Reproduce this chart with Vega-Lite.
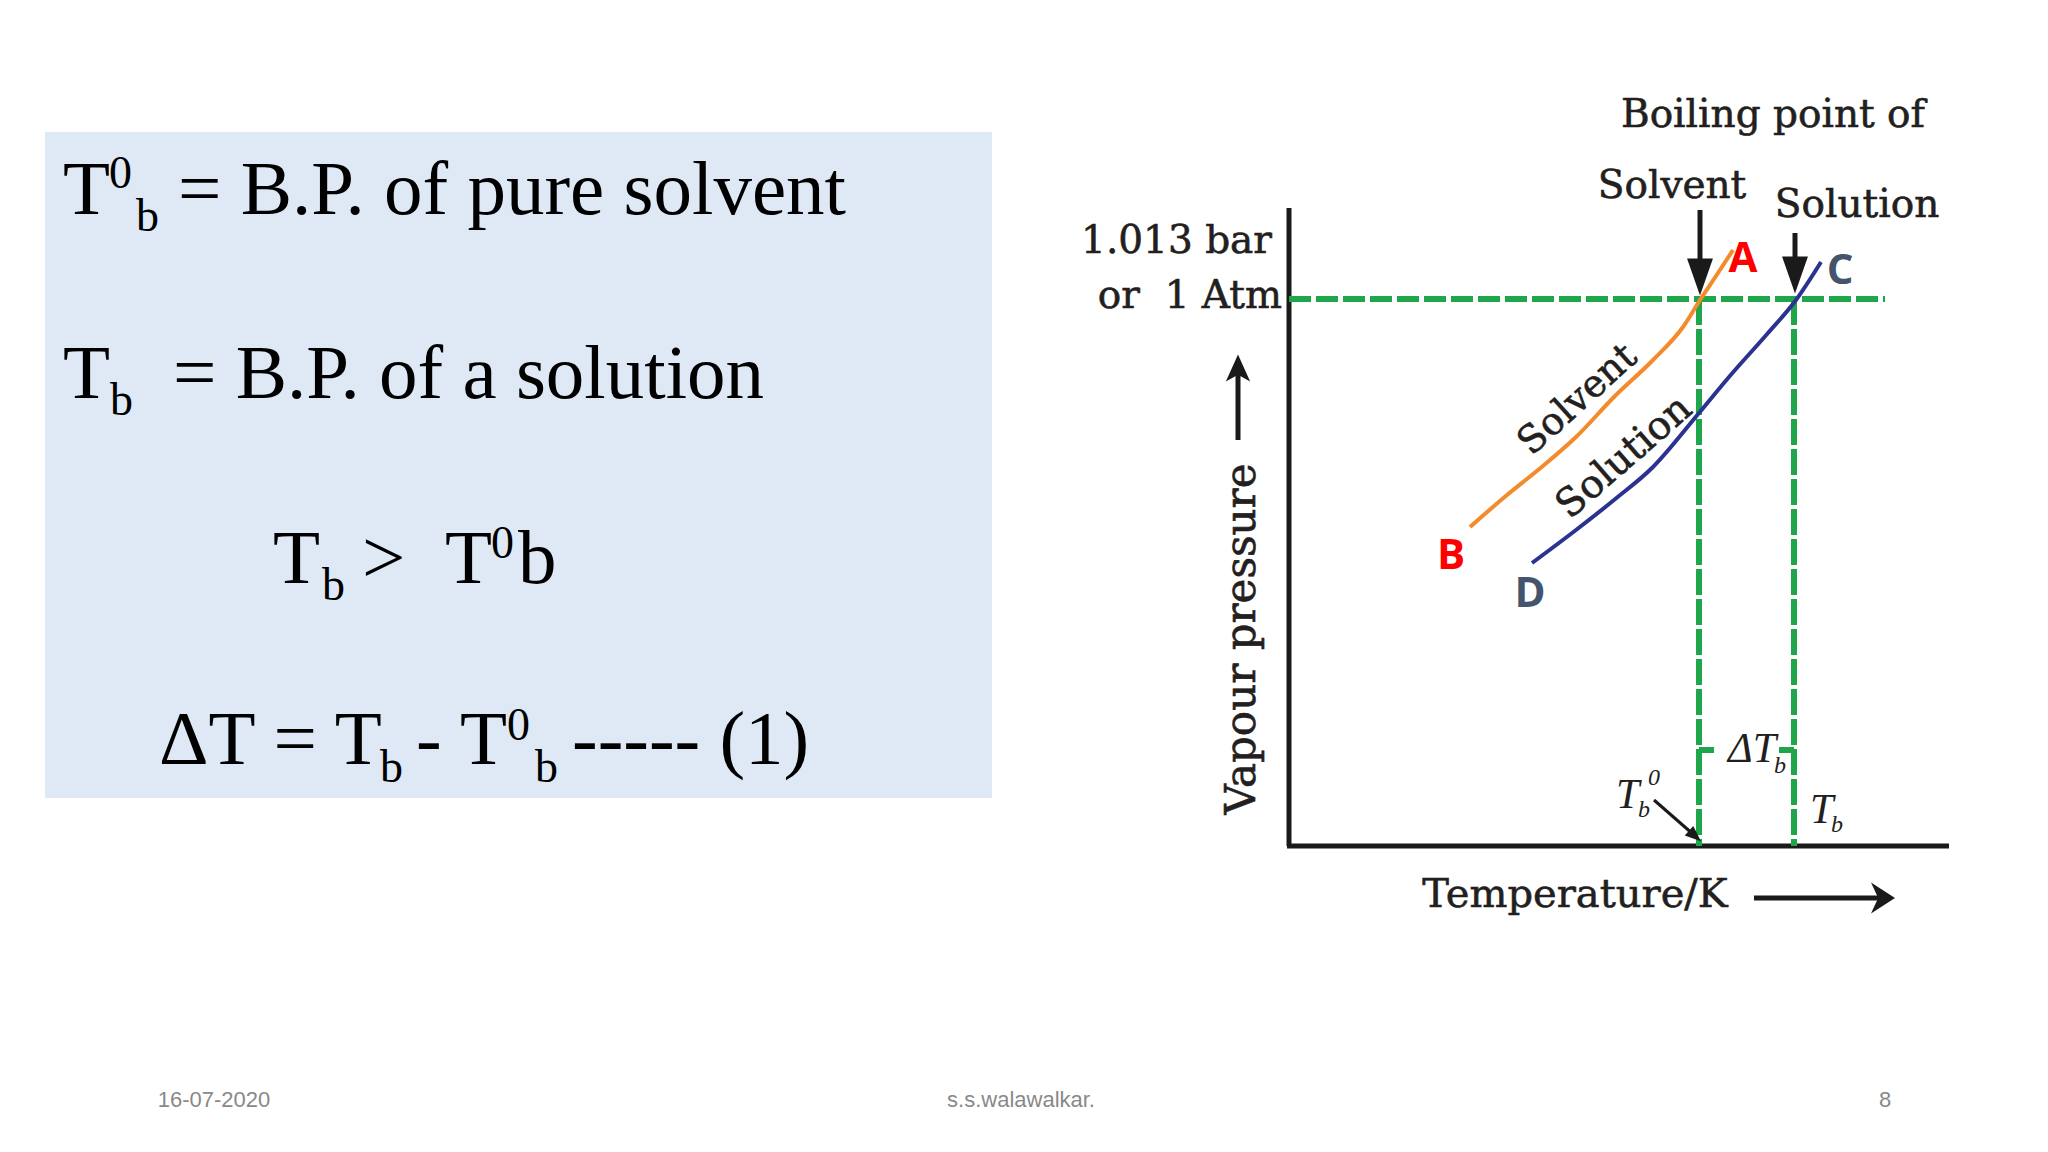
{
  "$schema": "https://vega.github.io/schema/vega-lite/v6.json",
  "width": 2048,
  "height": 1152,
  "autosize": {"type": "fit", "contains": "padding"},
  "padding": 0,
  "background": "#ffffff",
  "config": {"view": {"stroke": null}},
  "encoding": {
    "x": {"field": "x", "type": "quantitative", "scale": {"domain": [0, 2048], "nice": false, "zero": false}, "axis": null},
    "y": {"field": "y", "type": "quantitative", "scale": {"domain": [0, 1152], "nice": false, "zero": false, "reverse": true}, "axis": null}
  },
  "layer": [
    {
      "data": {"values": [{"x": 45, "x2": 992, "y": 132, "y2": 798}]},
      "mark": {"type": "rect", "color": "#dee9f5"},
      "encoding": {"x2": {"field": "x2"}, "y2": {"field": "y2"}}
    },
    {
      "data": {"values": [
        {"x": 63, "y": 214, "t": "T"}, {"x": 178, "y": 214, "t": "= B.P. of pure solvent"},
        {"x": 63, "y": 398, "t": "T"}, {"x": 173, "y": 398, "t": "= B.P. of a solution"},
        {"x": 273, "y": 583, "t": "T"}, {"x": 362, "y": 583, "t": ">"}, {"x": 445, "y": 583, "t": "T"}, {"x": 518, "y": 583, "t": "b"},
        {"x": 159, "y": 764, "t": "ΔT = T"}, {"x": 416, "y": 764, "t": "-"}, {"x": 460, "y": 764, "t": "T"}, {"x": 572, "y": 764, "t": "----- (1)"}
      ]},
      "mark": {"type": "text", "font": "Liberation Serif", "fontSize": 77, "align": "left", "baseline": "alphabetic", "color": "#000000"},
      "encoding": {"text": {"field": "t", "type": "nominal"}}
    },
    {
      "data": {"values": [
        {"x": 109, "y": 188, "t": "0"}, {"x": 136, "y": 231, "t": "b"},
        {"x": 110, "y": 415, "t": "b"},
        {"x": 322, "y": 600, "t": "b"}, {"x": 491, "y": 558, "t": "0"},
        {"x": 380, "y": 782, "t": "b"}, {"x": 507, "y": 740, "t": "0"}, {"x": 535, "y": 782, "t": "b"}
      ]},
      "mark": {"type": "text", "font": "Liberation Serif", "fontSize": 46, "align": "left", "baseline": "alphabetic", "color": "#000000"},
      "encoding": {"text": {"field": "t", "type": "nominal"}}
    },
    {
      "data": {"values": [{"x": 1289, "y": 208, "x2": 1289, "y2": 846}, {"x": 1287, "y": 846, "x2": 1949, "y2": 846}]},
      "mark": {"type": "rule", "color": "#1a1a1a", "strokeWidth": 5},
      "encoding": {"x2": {"field": "x2"}, "y2": {"field": "y2"}}
    },
    {
      "data": {"values": [{"x": 1289, "y": 299, "x2": 1885, "y2": 299}]},
      "mark": {"type": "rule", "color": "#1fa64a", "strokeWidth": 6, "strokeDash": [22, 5]},
      "encoding": {"x2": {"field": "x2"}, "y2": {"field": "y2"}}
    },
    {
      "data": {"values": [{"x": 1699, "y": 299, "x2": 1699, "y2": 846}, {"x": 1794, "y": 299, "x2": 1794, "y2": 846}]},
      "mark": {"type": "rule", "color": "#1fa64a", "strokeWidth": 6, "strokeDash": [26, 4]},
      "encoding": {"x2": {"field": "x2"}, "y2": {"field": "y2"}}
    },
    {
      "data": {"values": [{"x": 1699, "y": 750, "x2": 1714, "y2": 750}, {"x": 1779, "y": 750, "x2": 1794, "y2": 750}]},
      "mark": {"type": "rule", "color": "#1fa64a", "strokeWidth": 6},
      "encoding": {"x2": {"field": "x2"}, "y2": {"field": "y2"}}
    },
    {
      "data": {"values": [
        {"x": 1470, "y": 527}, {"x": 1507, "y": 495}, {"x": 1538, "y": 470}, {"x": 1576, "y": 437}, {"x": 1614, "y": 397},
        {"x": 1653, "y": 360}, {"x": 1683, "y": 327}, {"x": 1700, "y": 300}, {"x": 1718, "y": 273}, {"x": 1733, "y": 250}
      ]},
      "mark": {"type": "line", "color": "#f38b2c", "strokeWidth": 4, "interpolate": "monotone"},
      "encoding": {}
    },
    {
      "data": {"values": [
        {"x": 1532, "y": 563}, {"x": 1576, "y": 530}, {"x": 1614, "y": 500}, {"x": 1653, "y": 467}, {"x": 1699, "y": 413},
        {"x": 1729, "y": 377}, {"x": 1768, "y": 333}, {"x": 1796, "y": 300}, {"x": 1821, "y": 262}
      ]},
      "mark": {"type": "line", "color": "#2b3390", "strokeWidth": 4, "interpolate": "monotone"},
      "encoding": {}
    },
    {
      "data": {"values": [
        {"x": 1700, "y": 210, "x2": 1700, "y2": 262}, {"x": 1795, "y": 233, "x2": 1795, "y2": 262},
        {"x": 1238, "y": 440, "x2": 1238, "y2": 372}, {"x": 1754, "y": 898, "x2": 1880, "y2": 898}
      ]},
      "mark": {"type": "rule", "color": "#1a1a1a", "strokeWidth": 5},
      "encoding": {"x2": {"field": "x2"}, "y2": {"field": "y2"}}
    },
    {
      "data": {"values": [{"x": 1700, "y": 277}, {"x": 1795, "y": 275}]},
      "mark": {"type": "point", "shape": "M-0.7,-1L0.7,-1L0,1Z", "filled": true, "color": "#1a1a1a", "opacity": 1, "size": 1369},
      "encoding": {}
    },
    {
      "data": {"values": [{"x": 1238, "y": 368}]},
      "mark": {"type": "point", "shape": "M0,-1L0.9,1L0,0.5L-0.9,1Z", "filled": true, "color": "#1a1a1a", "opacity": 1, "size": 729},
      "encoding": {}
    },
    {
      "data": {"values": [{"x": 1883, "y": 898}]},
      "mark": {"type": "point", "shape": "M1,0L-1,-1.3L-0.4,0L-1,1.3Z", "filled": true, "color": "#1a1a1a", "opacity": 1, "size": 576},
      "encoding": {}
    },
    {
      "data": {"values": [{"x": 1654, "y": 800, "x2": 1694, "y2": 835}]},
      "mark": {"type": "rule", "color": "#1a1a1a", "strokeWidth": 3},
      "encoding": {"x2": {"field": "x2"}, "y2": {"field": "y2"}}
    },
    {
      "data": {"values": [{"x": 1695, "y": 836}]},
      "mark": {"type": "point", "shape": "M1,0L-1,-0.8L-1,0.8Z", "angle": 41.6, "filled": true, "color": "#1a1a1a", "opacity": 1, "size": 256},
      "encoding": {}
    },
    {
      "data": {"values": [{"x": 1773, "y": 127, "t": "Boiling point of"}, {"x": 1672, "y": 198, "t": "Solvent"}, {"x": 1857, "y": 217, "t": "Solution"}]},
      "mark": {"type": "text", "font": "DejaVu Serif", "fontSize": 39, "align": "center", "baseline": "alphabetic", "color": "#231f20", "stroke": "#231f20", "strokeWidth": 0.6},
      "encoding": {"text": {"field": "t", "type": "nominal"}}
    },
    {
      "data": {"values": [{"x": 1272, "y": 253, "t": "1.013 bar"}, {"x": 1282, "y": 308, "t": "or\u00a0 1 Atm"}]},
      "mark": {"type": "text", "font": "DejaVu Serif", "fontSize": 39, "align": "right", "baseline": "alphabetic", "color": "#231f20", "stroke": "#231f20", "strokeWidth": 0.6},
      "encoding": {"text": {"field": "t", "type": "nominal"}}
    },
    {
      "data": {"values": [{"x": 1575, "y": 907, "t": "Temperature/K"}]},
      "mark": {"type": "text", "font": "DejaVu Serif", "fontSize": 40, "align": "center", "baseline": "alphabetic", "color": "#231f20", "stroke": "#231f20", "strokeWidth": 0.6},
      "encoding": {"text": {"field": "t", "type": "nominal"}}
    },
    {
      "data": {"values": [{"x": 1255, "y": 639, "t": "Vapour pressure"}]},
      "mark": {"type": "text", "font": "DejaVu Serif", "fontSize": 42, "angle": 270, "align": "center", "baseline": "alphabetic", "color": "#231f20", "stroke": "#231f20", "strokeWidth": 0.6},
      "encoding": {"text": {"field": "t", "type": "nominal"}}
    },
    {
      "data": {"values": [{"x": 1578, "y": 400, "t": "Solvent"}]},
      "mark": {"type": "text", "font": "DejaVu Serif", "fontSize": 38, "angle": 318, "align": "center", "baseline": "middle", "color": "#231f20", "stroke": "#231f20", "strokeWidth": 0.6},
      "encoding": {"text": {"field": "t", "type": "nominal"}}
    },
    {
      "data": {"values": [{"x": 1624, "y": 457, "t": "Solution"}]},
      "mark": {"type": "text", "font": "DejaVu Serif", "fontSize": 39, "angle": 319, "align": "center", "baseline": "middle", "color": "#231f20", "stroke": "#231f20", "strokeWidth": 0.6},
      "encoding": {"text": {"field": "t", "type": "nominal"}}
    },
    {
      "data": {"values": [{"x": 1743, "y": 272, "t": "A"}, {"x": 1451, "y": 569, "t": "B"}]},
      "mark": {"type": "text", "font": "Open Sans", "fontWeight": "bold", "fontSize": 42, "align": "center", "baseline": "alphabetic", "color": "#ff0000"},
      "encoding": {"text": {"field": "t", "type": "nominal"}}
    },
    {
      "data": {"values": [{"x": 1840, "y": 284, "t": "C"}, {"x": 1530, "y": 607, "t": "D"}]},
      "mark": {"type": "text", "font": "Open Sans", "fontWeight": "bold", "fontSize": 42, "align": "center", "baseline": "alphabetic", "color": "#44546a"},
      "encoding": {"text": {"field": "t", "type": "nominal"}}
    },
    {
      "data": {"values": [{"x": 1728, "y": 762, "t": "ΔT"}, {"x": 1616, "y": 808, "t": "T"}, {"x": 1810, "y": 823, "t": "T"}]},
      "mark": {"type": "text", "font": "Liberation Serif", "fontStyle": "italic", "fontSize": 42, "align": "left", "baseline": "alphabetic", "color": "#231f20"},
      "encoding": {"text": {"field": "t", "type": "nominal"}}
    },
    {
      "data": {"values": [{"x": 1774, "y": 773, "t": "b"}, {"x": 1648, "y": 785, "t": "0"}, {"x": 1638, "y": 817, "t": "b"}, {"x": 1831, "y": 832, "t": "b"}]},
      "mark": {"type": "text", "font": "Liberation Serif", "fontStyle": "italic", "fontSize": 24, "align": "left", "baseline": "alphabetic", "color": "#231f20"},
      "encoding": {"text": {"field": "t", "type": "nominal"}}
    },
    {
      "data": {"values": [{"x": 214, "y": 1100, "t": "16-07-2020"}, {"x": 1021, "y": 1100, "t": "s.s.walawalkar."}, {"x": 1885, "y": 1100, "t": "8"}]},
      "mark": {"type": "text", "font": "Liberation Sans", "fontSize": 22, "align": "center", "baseline": "middle", "color": "#898989"},
      "encoding": {"text": {"field": "t", "type": "nominal"}}
    }
  ]
}
